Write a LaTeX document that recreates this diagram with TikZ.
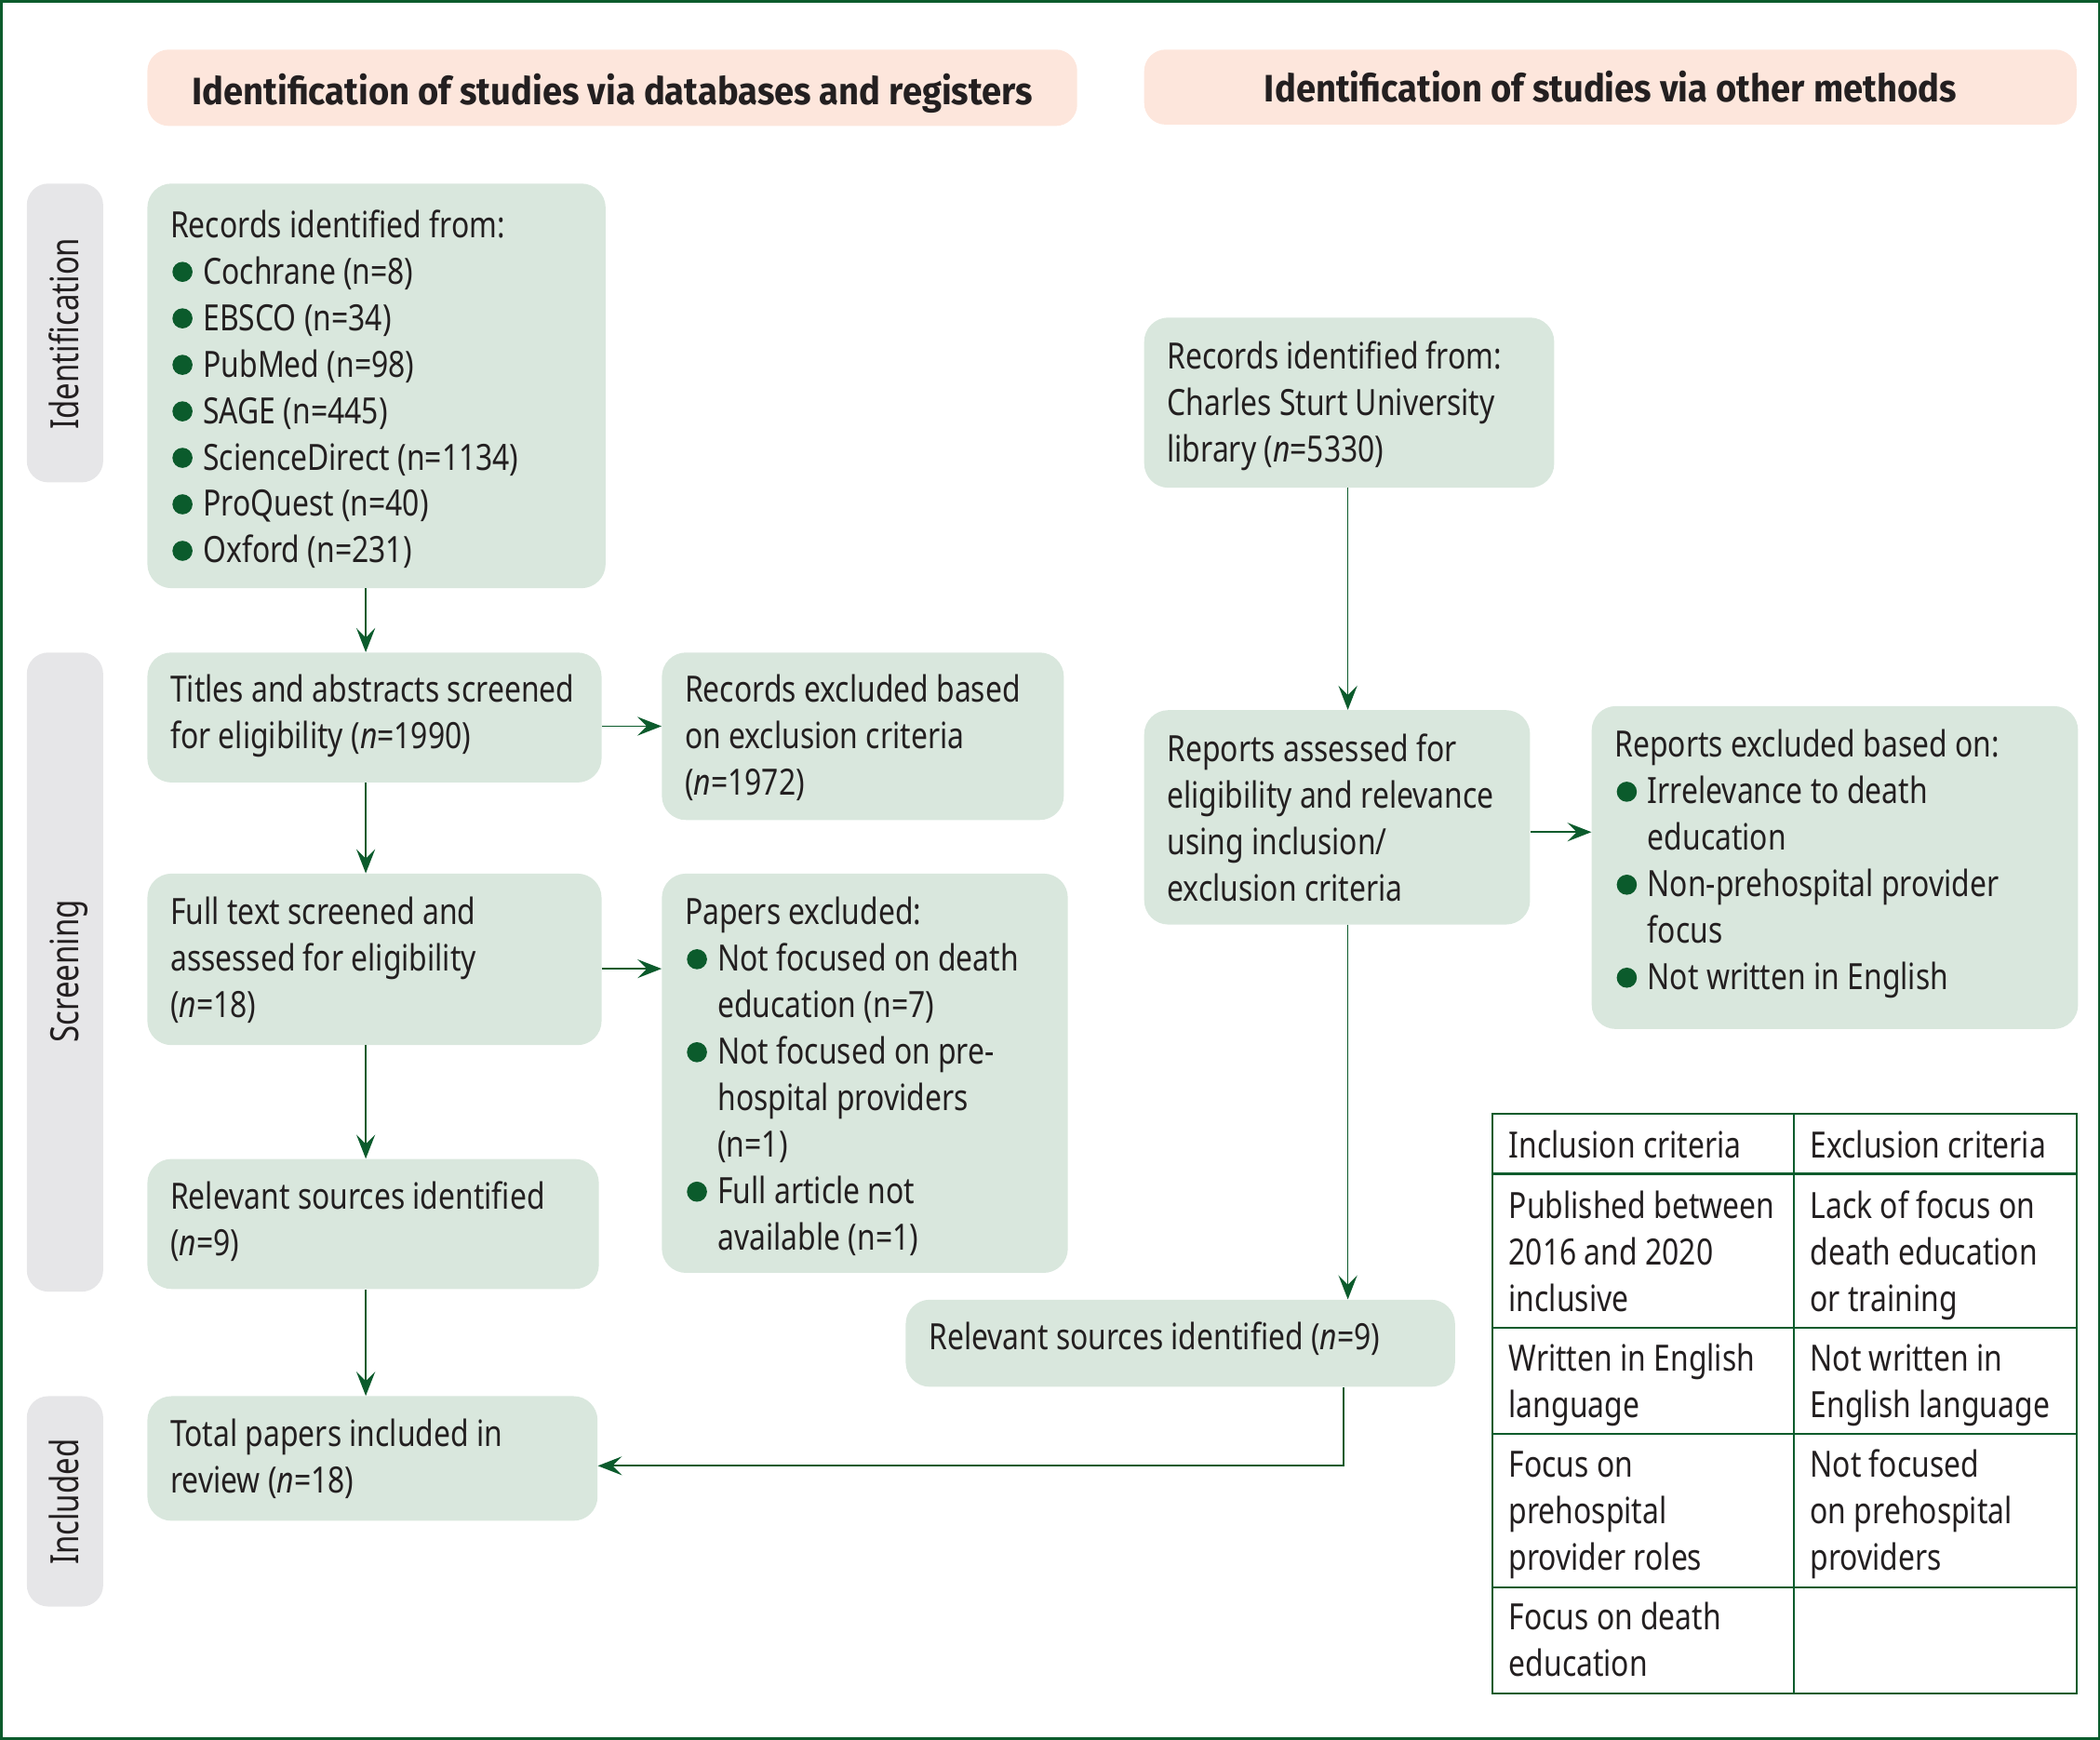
\documentclass[tikz,border=0pt]{standalone}
\usepackage{fontspec}
\setmainfont{Noto Sans}[FakeStretch=0.82]
\newfontfamily\hdfont{Fira Sans}[FakeStretch=0.93]
\newfontfamily\sidefont{Noto Sans}[FakeStretch=0.79]
\usetikzlibrary{arrows.meta,fit,calc}
\definecolor{dg}{HTML}{0B5B2C}
\definecolor{boxc}{HTML}{D9E7DD}
\definecolor{hdc}{HTML}{FDE6DC}
\definecolor{sidec}{HTML}{E6E6E8}
\definecolor{txtc}{HTML}{231F20}
\newcommand\st{\rule{0pt}{26pt}}
\newcommand\bul{\makebox[24.5pt][l]{\hspace{1.5pt}\tikz[x=1pt,y=1pt,baseline=0pt]\fill[dg] (7.5,9) circle[radius=7.5];}}
\newcommand\ind{\hspace*{24.5pt}}
\newcommand\nn{\textit{n}}
\begin{document}
\begin{tikzpicture}[x=1pt,y=-1pt,
  box/.style={fill=boxc, rounded corners=18pt, inner sep=0pt, draw=none},
  hdbox/.style={fill=hdc, rounded corners=16pt, inner sep=0pt, draw=none},
  sidebox/.style={fill=sidec, rounded corners=16pt, inner sep=0pt, draw=none},
  txt/.style={anchor=north west, inner sep=0pt, align=left, text=txtc, font=\fontsize{27}{34.7}\selectfont},
  hdtxt/.style={anchor=base, inner sep=0pt, text=txtc, font=\hdfont\bfseries\fontsize{28.5}{34}\selectfont},
  sidetxt/.style={anchor=base, rotate=90, inner sep=0pt, text=txtc, font=\sidefont\fontsize{29}{32}\selectfont},
  arr/.style={dg, line width=1.2pt, -{Stealth[length=18pt,width=14pt,inset=7pt]}},
  grid/.style={dg, line width=1.5pt}]
\useasboundingbox (0,0) rectangle (1567.4,1298.6);
\draw[dg, line width=1.5pt] (1,1) rectangle (1566.4,1297.6);

% headers
\node[hdbox, fit={(110,37) (804,94)}] (H1) {};
\node[hdtxt] (H1t) at (457,78) {Identification of studies via databases and registers};
\node[hdbox, fit={(854,37) (1550,93)}] (H2) {};
\node[hdtxt] (H2t) at (1202,76) {Identification of studies via other methods};

% side labels
\node[sidebox, fit={(20,137) (77,360)}] (S1) {};
\node[sidetxt] (S1t) at (59,249) {Identification};
\node[sidebox, fit={(20,487) (77,964)}] (S2) {};
\node[sidetxt] (S2t) at (59,725) {Screening};
\node[sidebox, fit={(20,1042) (77,1199)}] (S3) {};
\node[sidetxt] (S3t) at (59,1121) {Included};

% boxes left
\node[box, fit={(110,137) (452,439)}] (A) {};
\node[txt] (At) at (127,151) {\st Records identified from:\\
\bul Cochrane (n=8)\\ \bul EBSCO (n=34)\\ \bul PubMed (n=98)\\ \bul SAGE (n=445)\\
\bul ScienceDirect (n=1134)\\ \bul ProQuest (n=40)\\ \bul Oxford (n=231)};

\node[box, fit={(110,487) (449,584)}] (B) {};
\node[txt] (Bt) at (127,498) {\st Titles and abstracts screened\\ for eligibility (\nn=1990)};

\node[box, fit={(494,487) (794,612)}] (C) {};
\node[txt] (Ct) at (511,498) {\st Records excluded based\\ on exclusion criteria\\ (\nn=1972)};

\node[box, fit={(110,652) (449,780)}] (D) {};
\node[txt] (Dt) at (127,664) {\st Full text screened and\\ assessed for eligibility\\ (\nn=18)};

\node[box, fit={(494,652) (797,950)}] (E) {};
\node[txt] (Et) at (511,664) {\st Papers excluded:\\ \bul Not focused on death\\ \ind education (n=7)\\
\bul Not focused on pre-\\ \ind hospital providers\\ \ind (n=1)\\ \bul Full article not\\ \ind available (n=1)};

\node[box, fit={(110,865) (447,962)}] (F) {};
\node[txt] (Ft) at (127,876) {\st Relevant sources identified\\ (\nn=9)};

\node[box, fit={(110,1042) (446,1135)}] (G) {};
\node[txt] (Gt) at (127,1053) {\st Total papers included in\\ review (\nn=18)};

% boxes right
\node[box, fit={(854,237) (1160,364)}] (H) {};
\node[txt] (Ht) at (871,249) {\st Records identified from:\\ Charles Sturt University\\ library (\nn=5330)};

\node[box, fit={(854,530) (1142,690)}] (I) {};
\node[txt] (It) at (871,542) {\st Reports assessed for\\ eligibility and relevance\\ using inclusion/\\ exclusion criteria};

\node[box, fit={(1188,527) (1551,768)}] (J) {};
\node[txt] (Jt) at (1205,539) {\st Reports excluded based on:\\ \bul Irrelevance to death\\ \ind education\\
\bul Non-prehospital provider\\ \ind focus\\ \bul Not written in English};

\node[box, fit={(676,970) (1086,1035)}] (K) {};
\node[txt] (Kt) at (693,981) {\st Relevant sources identified (\nn=9)};

% arrows
\coordinate (cl) at (273,0);
\coordinate (cr) at (1006,0);
\coordinate (ck) at (1003,0);
\coordinate (yb) at (0,542);
\coordinate (yd) at (0,723);
\coordinate (yi) at (0,621);
\coordinate (yg) at (0,1094);
\draw[arr] (A.south -| cl) -- (B.north -| cl);
\draw[arr] (B.east |- yb) -- (C.west |- yb);
\draw[arr] (B.south -| cl) -- (D.north -| cl);
\draw[arr] (D.east |- yd) -- (E.west |- yd);
\draw[arr] (D.south -| cl) -- (F.north -| cl);
\draw[arr] (F.south -| cl) -- (G.north -| cl);
\draw[arr] (H.south -| cr) -- (I.north -| cr);
\draw[arr] (I.east |- yi) -- (J.west |- yi);
\draw[arr] (I.south -| cr) -- (K.north -| cr);
\draw[arr] (K.south -| ck) |- (G.east |- yg);

% table
\draw[grid] (1114,831) rectangle (1550,1264);
\foreach \yy in {876,991,1070,1185} \draw[grid] (1114,\yy) -- (1550,\yy);
\draw[dg, line width=1.1pt] (1339,831) -- (1339,1264);
\node[txt] (T00) at (1126,838) {\st Inclusion criteria};
\node[txt] (T01) at (1351,838) {\st Exclusion criteria};
\node[txt] (T10) at (1126,883) {\st Published between\\ 2016 and 2020\\ inclusive};
\node[txt] (T11) at (1351,883) {\st Lack of focus on\\ death education\\ or training};
\node[txt] (T20) at (1126,997) {\st Written in English\\ language};
\node[txt] (T21) at (1351,997) {\st Not written in\\ English language};
\node[txt] (T30) at (1126,1076) {\st Focus on\\ prehospital\\ provider roles};
\node[txt] (T31) at (1351,1076) {\st Not focused\\ on prehospital\\ providers};
\node[txt] (T40) at (1126,1190) {\st Focus on death\\ education};
\end{tikzpicture}
\end{document}
